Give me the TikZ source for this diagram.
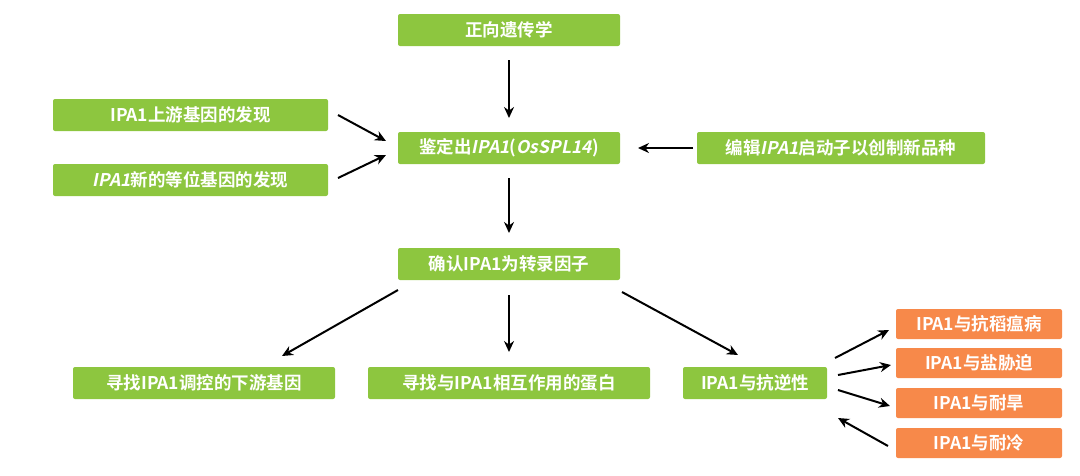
\documentclass[tikz,border=0pt]{standalone}
\usepackage{fontspec}
\setmainfont{Noto Sans CJK SC}[BoldFont={Noto Sans CJK SC Bold},BoldItalicFont={Noto Sans CJK SC Bold},BoldItalicFeatures={FakeSlant=0.2},ItalicFeatures={FakeSlant=0.2}]
\usetikzlibrary{arrows.meta}
\definecolor{gr}{HTML}{8DC63F}
\definecolor{og}{HTML}{F7894A}
\begin{document}
\begin{tikzpicture}[x=1pt,y=-1pt,
  gbox/.style={fill=gr,rounded corners=2pt,text=white,font=\bfseries\fontsize{17.5}{19}\selectfont,inner sep=0pt,minimum height=32pt},
  obox/.style={gbox,fill=og,minimum height=30pt,minimum width=166pt},
  arr/.style={-{Stealth[length=11pt,width=10pt]},line width=2pt}]
\useasboundingbox (0,0) rectangle (1080,475);
\node[gbox,minimum width=222pt] (a) at (509,30) {正向遗传学};
\node[gbox,minimum width=222pt] (b) at (509,148) {鉴定出\textit{IPA1}(\textit{OsSPL14})};
\node[gbox,minimum width=275pt] (u) at (190.5,115) {IPA1上游基因的发现};
\node[gbox,minimum width=275pt] (n) at (190.5,180) {\textit{IPA1}新的等位基因的发现};
\node[gbox,minimum width=288pt] (e) at (841,148) {编辑\textit{IPA1}启动子以创制新品种};
\node[gbox,minimum width=222pt] (c) at (509,264) {确认IPA1为转录因子};
\node[gbox,minimum width=262pt] (d1) at (204,383) {寻找IPA1调控的下游基因};
\node[gbox,minimum width=282pt] (d2) at (509,383) {寻找与IPA1相互作用的蛋白};
\node[gbox,minimum width=144pt] (d3) at (755,383) {IPA1与抗逆性};
\node[obox] (o1) at (979,324) {IPA1与抗稻瘟病};
\node[obox] (o2) at (979,363) {IPA1与盐胁迫};
\node[obox] (o3) at (979,403) {IPA1与耐旱};
\node[obox] (o4) at (979,443) {IPA1与耐冷};
\draw[arr] (509,60) -- (509,118);
\draw[arr] (338,115) -- (386,141);
\draw[arr] (338,178) -- (386,155);
\draw[arr] (693,148) -- (638,148);
\draw[arr] (509,178) -- (509,233);
\draw[arr] (398,290) -- (282,356);
\draw[arr] (509,295) -- (509,352);
\draw[arr] (622,292) -- (738,355);
\draw[arr] (835,358) -- (889,330);
\draw[arr] (838,375) -- (891,365);
\draw[arr] (838,390) -- (890,406);
\draw[arr] (888,446) -- (838,418);
\end{tikzpicture}
\end{document}
